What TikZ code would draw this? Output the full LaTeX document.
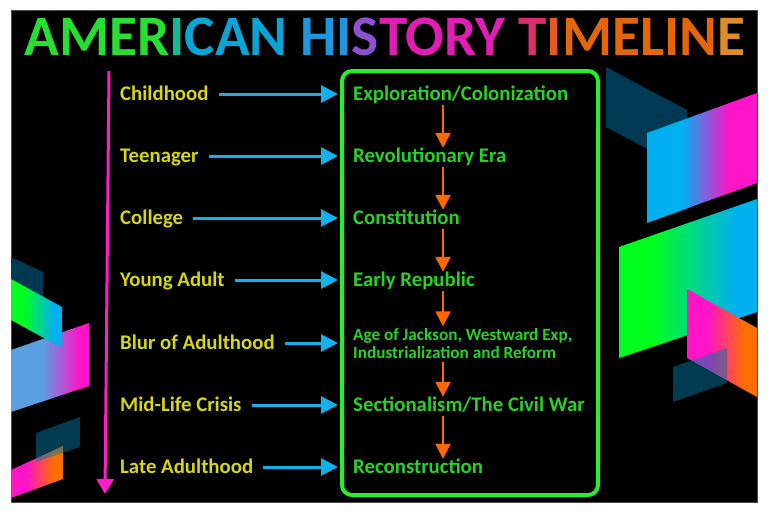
\documentclass[tikz,border=0pt]{standalone}
\usepackage{fontspec}
\setmainfont{Carlito}
\usetikzlibrary{arrows.meta}

\definecolor{lblyellow}{RGB}{214,214,24}
\definecolor{eragreen}{RGB}{40,210,40}
\definecolor{boxgreen}{RGB}{40,240,40}
\definecolor{arrblue}{RGB}{20,176,236}
\definecolor{arrorange}{RGB}{255,104,0}
\definecolor{arrpink}{RGB}{255,30,200}
\definecolor{shteal}{RGB}{0,58,82}
\definecolor{shtealb}{RGB}{0,118,162}
\definecolor{shblue}{RGB}{0,176,240}
\definecolor{shlblue}{RGB}{90,160,225}
\definecolor{shmag}{RGB}{255,20,200}
\definecolor{shgreen}{RGB}{0,255,30}
\definecolor{shorange}{RGB}{255,110,0}

\definecolor{tA}{RGB}{40,222,50}
\definecolor{tB}{RGB}{20,185,150}
\definecolor{tC}{RGB}{10,165,215}
\definecolor{tD}{RGB}{30,150,222}
\definecolor{tE}{RGB}{140,80,210}
\definecolor{tF}{RGB}{225,30,180}
\definecolor{tG}{RGB}{222,45,110}
\definecolor{tH}{RGB}{228,90,30}
\definecolor{tI}{RGB}{228,102,10}
\definecolor{tJ}{RGB}{222,140,40}

\pgfdeclarehorizontalshading{bluemag}{100bp}{color(0bp)=(shblue); color(41bp)=(shblue); color(62bp)=(shmag); color(100bp)=(shmag)}
\pgfdeclarehorizontalshading{lbluemag}{100bp}{color(0bp)=(shlblue); color(45bp)=(shlblue); color(69bp)=(shmag); color(100bp)=(shmag)}
\pgfdeclarehorizontalshading{greenblue}{100bp}{color(0bp)=(shgreen); color(37bp)=(shgreen); color(67bp)=(shblue); color(100bp)=(shblue)}
\pgfdeclarehorizontalshading{magorange}{100bp}{color(0bp)=(shmag); color(40bp)=(shmag); color(66bp)=(shorange); color(100bp)=(shorange)}

\tikzset{
  life/.style={anchor=west, inner sep=0pt, text height=13pt, text depth=0pt,
    font=\fontsize{20.8}{24}\selectfont\bfseries, text=lblyellow},
  era/.style={anchor=west, inner sep=0pt, text height=13pt, text depth=0pt,
    font=\fontsize{20.8}{24}\selectfont\bfseries, text=eragreen},
  toera/.style={draw=arrblue, line width=3pt, shorten <=10pt, shorten >=15pt,
    -{Triangle[length=17pt,width=17pt]}},
  nextera/.style={draw=arrorange, line width=2.5pt, shorten <=4pt, shorten >=1.5pt,
    -{Triangle[length=15pt,width=15pt]}},
  lifeline/.style={draw=arrpink, line width=3pt, -{Triangle[length=15pt,width=17pt]}},
  erabox/.style={draw=boxgreen, line width=4pt, rounded corners=10pt},
  glass/.style={fill=shtealb, fill opacity=0.5}
}

\begin{document}
\begin{tikzpicture}[x=1pt,y=-1pt]
\useasboundingbox (0,0) rectangle (768,512);
\fill[white] (0,0) rectangle (768,512);
\draw[fill=black, draw=black!70, line width=1pt] (11,10) rectangle (757,502);

\fill[shteal] (606,67) -- (687,110) -- (687,170) -- (606,127) -- cycle;
\shade[shading=bluemag] (647,133) -- (757,93) -- (757,183) -- (647,223) -- cycle;
\shade[shading=greenblue] (619,247) -- (757,199) -- (757,312) -- (619,358) -- cycle;
\shade[shading=magorange] (687,289) -- (757,328) -- (757,397) -- (687,358) -- cycle;
\fill[glass] (673,367) -- (727,348) -- (727,383) -- (673,402) -- cycle;

\fill[shteal] (11,257) -- (43,272) -- (43,330) -- (11,315) -- cycle;
\shade[shading=lbluemag] (11,350) -- (89,323) -- (89,386) -- (11,412) -- cycle;
\shade[shading=greenblue] (11,279) -- (62,307) -- (62,348) -- (11,320) -- cycle;
\shade[shading=magorange] (11,470) -- (63,446) -- (63,479) -- (11,498) -- cycle;
\fill[glass] (36,433) -- (80,417) -- (80,447) -- (36,462) -- cycle;

\node[anchor=base, inner sep=0pt, font=\fontsize{57.3}{60}\selectfont\bfseries] (title) at (385,55)
  {\textcolor{tA}{AMER}\textcolor{tB}{I}\textcolor{tC}{CAN} \textcolor{tD}{HI}\textcolor{tE}{S}\textcolor{tF}{TORY}
   \textcolor{tG}{T}\textcolor{tH}{I}\textcolor{tI}{MELIN}\textcolor{tJ}{E}};

\coordinate (lifetop) at (109,71);
\coordinate (lifeend) at (105,494);
\draw[lifeline] (lifetop) -- (lifeend);

\draw[erabox] (342,71) rectangle (598,495);

\node[life] (l1) at (120,94) {Childhood};
\node[life] (l2) at (120,156) {Teenager};
\node[life] (l3) at (120,218) {College};
\node[life] (l4) at (120,280) {Young Adult};
\node[life] (l5) at (120,343) {Blur of Adulthood};
\node[life] (l6) at (120,405) {Mid-Life Crisis};
\node[life] (l7) at (120,467) {Late Adulthood};

\node[era] (e1) at (353,94) {Exploration/Colonization};
\node[era] (e2) at (353,156) {Revolutionary Era};
\node[era] (e3) at (353,218) {Constitution};
\node[era] (e4) at (353,280) {Early Republic};
\node[era, text height={}, align=left, font=\fontsize{17.2}{18}\selectfont\bfseries] (e5) at (353,343)
  {Age of Jackson, Westward Exp,\\Industrialization and Reform};
\node[era] (e6) at (353,405) {Sectionalism/The Civil War};
\node[era] (e7) at (353,467) {Reconstruction};

\coordinate (spine) at (443,0);
\foreach \i in {1,...,7}
  \draw[toera] (l\i.east) -- (l\i.east -| e\i.west);
\foreach \i/\j in {1/2,2/3,3/4,4/5,5/6,6/7}
  \draw[nextera] (e\i.south -| spine) -- (e\j.north -| spine);
\end{tikzpicture}
\end{document}
